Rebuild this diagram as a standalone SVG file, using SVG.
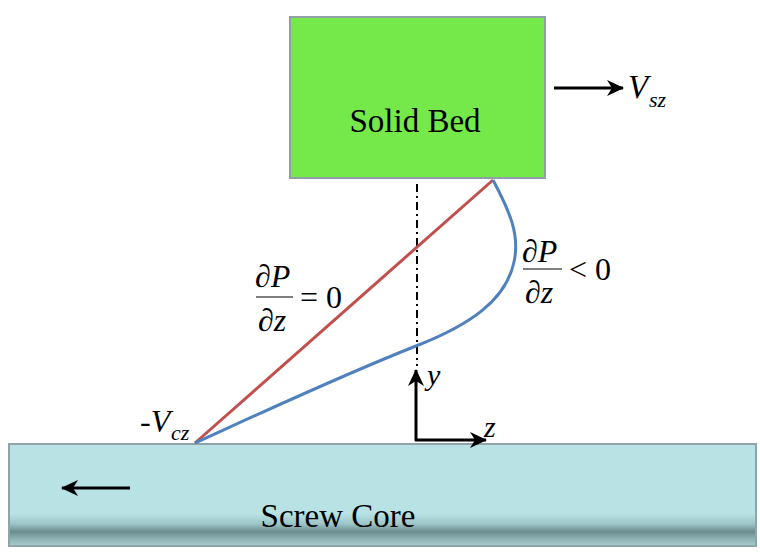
<svg xmlns="http://www.w3.org/2000/svg" width="760" height="552" viewBox="0 0 760 552" font-family="'Liberation Serif', 'Times New Roman', serif">
<defs>
<linearGradient id="core" x1="0" y1="0" x2="0" y2="1">
<stop offset="0" stop-color="#B8E2E4"/>
<stop offset="0.68" stop-color="#B8E2E4"/>
<stop offset="0.78" stop-color="#9EC6C9"/>
<stop offset="0.86" stop-color="#6C8D90"/>
<stop offset="0.93" stop-color="#8EB1B4"/>
<stop offset="1" stop-color="#A9CDCF"/>
</linearGradient>
<marker id="ah" viewBox="0 0 17 16" refX="16" refY="8" markerWidth="17" markerHeight="16" markerUnits="userSpaceOnUse" orient="auto">
<path d="M0,0 L17,8 L0,16 L5,8 Z" fill="#000"/>
</marker>
<style>
.ax{stroke:#000;stroke-width:3;fill:none}
</style>
</defs>
<rect width="760" height="552" fill="#fff"/>
<g id="screw-core">
<rect x="9" y="444" width="747" height="102" fill="url(#core)" stroke="#8FA3A8" stroke-width="2"/>
<line x1="130" y1="488" x2="62" y2="488" class="ax" marker-end="url(#ah)"/>
<text x="338" y="527" font-family="'Liberation Serif', serif" font-size="33" text-anchor="middle">Screw Core</text>
</g>
<g id="solid-bed">
<rect x="290" y="17" width="255" height="161" fill="#75E84A" stroke="#8FA0A8" stroke-width="2"/>
<text x="415" y="132" font-family="'Liberation Serif', serif" font-size="33" text-anchor="middle">Solid Bed</text>
</g>
<g id="vsz" font-family="'Liberation Serif', serif" font-style="italic">
<line x1="554" y1="88" x2="623" y2="88" class="ax" marker-end="url(#ah)"/>
<text x="628" y="98" font-size="33">V</text>
<text x="649" y="107" font-size="22">sz</text>
</g>
<g id="connectors">
<line x1="417" y1="184" x2="417" y2="366" stroke="#000" stroke-width="2" stroke-dasharray="8 4 2 4"/>
<line x1="493" y1="180" x2="195" y2="443" stroke="#C0504D" stroke-width="3"/>
<path d="M493,180 C510,212 520,235 514,262 C506,300 470,325 416,346 C340,376 250,418 195,443" fill="none" stroke="#4F81BD" stroke-width="3"/>
</g>
<g id="axes" font-family="'Liberation Serif', serif" font-style="italic">
<line x1="416" y1="441" x2="416" y2="370" class="ax" marker-end="url(#ah)"/>
<line x1="415" y1="440" x2="486" y2="440" class="ax" marker-end="url(#ah)"/>
<text x="427" y="385" font-size="30">y</text>
<text x="484" y="437" font-size="30">z</text>
</g>
<g id="vcz" font-family="'Liberation Serif', serif" font-style="italic">
<text x="140" y="432" font-size="32">-V</text>
<text x="171" y="440" font-size="22">cz</text>
</g>
<g id="eq-zero" font-family="'Liberation Serif', serif" font-size="32">
<text x="255" y="287">∂<tspan font-style="italic">P</tspan></text>
<line x1="256" y1="297" x2="293" y2="297" stroke="#000" stroke-width="1.2"/>
<text x="258" y="331">∂<tspan font-style="italic">z</tspan></text>
<text x="300" y="308">= 0</text>
</g>
<g id="eq-neg" font-family="'Liberation Serif', serif" font-size="32">
<text x="522" y="262">∂<tspan font-style="italic">P</tspan></text>
<line x1="523" y1="269" x2="562" y2="269" stroke="#000" stroke-width="1.2"/>
<text x="525" y="303">∂<tspan font-style="italic">z</tspan></text>
<text x="569" y="280">&lt; 0</text>
</g>
</svg>
